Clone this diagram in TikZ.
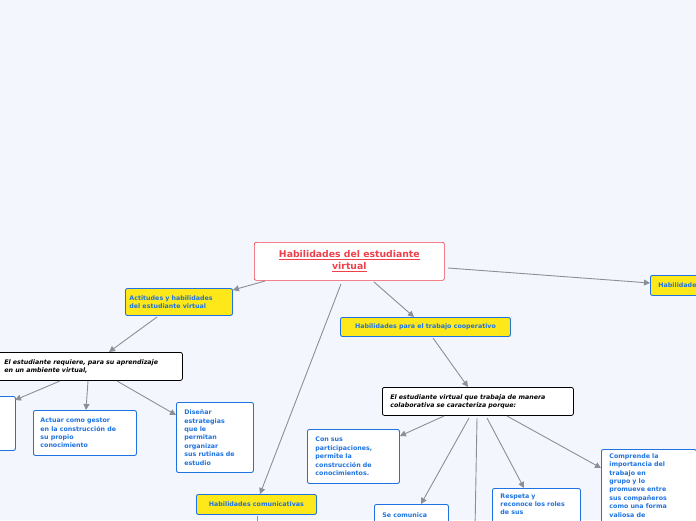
\documentclass[tikz,border=0pt]{standalone}
\usepackage{fontspec}
\setmainfont{DejaVu Sans}
\usetikzlibrary{arrows.meta}
\definecolor{bg}{HTML}{F4F6FD}
\definecolor{ln}{HTML}{8A8F99}
\definecolor{bl}{HTML}{1E73E0}
\definecolor{yl}{HTML}{FFE81A}
\definecolor{rd}{HTML}{F0404A}
\begin{document}
\begin{tikzpicture}[x=1pt,y=-1pt,
 box/.style={draw=bl,line width=0.9pt,rounded corners=2pt,fill=white,font=\fontsize{6.3}{8.4}\selectfont\bfseries,text=bl,align=left,anchor=north west,inner sep=0pt},
 ybox/.style={draw=bl,line width=0.9pt,rounded corners=2pt,fill=yl,font=\fontsize{6.3}{8.4}\selectfont\bfseries,text=bl,align=left,anchor=north west,inner sep=0pt},
 kbox/.style={draw=black,line width=0.8pt,rounded corners=2pt,fill=white,font=\fontsize{6.3}{8}\selectfont\bfseries\itshape,align=left,anchor=north west,inner sep=0pt},
 con/.style={draw=ln,line width=0.9pt,-{Triangle[length=6pt,width=6pt]}}]
\clip (0,0) rectangle (696,520);
\fill[bg] (0,0) rectangle (696,520);
\node[draw=rd,line width=0.7pt,rounded corners=2pt,fill=white,minimum width=190pt,minimum height=38pt,anchor=north west,inner sep=0pt,align=center,text=rd,font=\fontsize{9.3}{12}\selectfont\bfseries] (t) at (254,242) {\underline{Habilidades del estudiante}\\\underline{virtual}};
\node[ybox,minimum width=107pt,minimum height=27pt,text width=99pt,inner xsep=4pt] (a1) at (125,288) {Actitudes y habilidades\\del estudiante virtual};
\node[kbox,minimum width=186pt,minimum height=28pt,text width=170pt,inner xsep=8pt] (b1) at (-4,352) {El estudiante requiere, para su aprendizaje\\en un ambiente virtual,};
\node[box,minimum width=75pt,minimum height=54pt] (c0) at (-60,396) {};
\node[box,minimum width=103pt,minimum height=45pt,text width=89pt,inner xsep=7pt] (c1) at (33,410) {Actuar como gestor\\en la construcción de\\su propio\\conocimiento};
\node[box,minimum width=77pt,minimum height=70pt,text width=61pt,inner xsep=8pt] (c2) at (176,402) {Diseñar\\estrategias\\que le\\permitan\\organizar\\sus rutinas de\\estudio};
\node[ybox,minimum width=120pt,minimum height=20pt,align=center] (hc) at (196,494) {Habilidades comunicativas};
\node[ybox,minimum width=170pt,minimum height=19pt,align=center] (ht) at (340,317) {Habilidades para el trabajo cooperativo};
\node[ybox,minimum width=60pt,minimum height=20pt,text width=44pt,inner xsep=8pt] (hr) at (650,275) {Habilidades};
\node[kbox,minimum width=191pt,minimum height=28pt,text width=175pt,inner xsep=8pt] (d) at (382,387) {El estudiante virtual que trabaja de manera\\colaborativa se caracteriza porque:};
\node[box,minimum width=92pt,minimum height=54pt,text width=76pt,inner xsep=8pt] (e1) at (307,429) {Con sus\\participaciones,\\permite la\\construcción de\\conocimientos.};
\node[box,minimum width=74pt,minimum height=30pt,text width=58pt,inner xsep=8pt,inner ysep=5pt] (e2) at (374,504) {Se comunica\\\ };
\node[box,minimum width=88pt,minimum height=40pt,text width=72pt,inner xsep=8pt,inner ysep=5pt] (e3) at (492,488) {Respeta y\\reconoce los roles\\de sus\\\ };
\node[box,minimum width=95pt,minimum height=80pt,text width=79pt,inner xsep=8pt,inner ysep=4pt] (e4) at (601,449) {Comprende la\\importancia del\\trabajo en\\grupo y lo\\promueve entre\\sus compañeros\\como una forma\\valiosa de\\\ };
\coordinate (hcb) at (257,530);
\coordinate (db) at (475,530);
\draw[con] (265,281) -- (a1.north east |- 0,290) ;
\draw[con] (341,284) -- (hc.north -| 260,0);
\draw[con] (374,282) -- (ht.north -| 414,0);
\draw[con] (448,268) -- (hr.west |- 0,283);
\draw[con] (157,317) -- (b1.north -| 109,0);
\draw[con] (60,381) -- (15,400);
\draw[con] (88,381) -- (c1.north -| 86,0);
\draw[con] (117,381) -- (c2.west |- 0,415);
\draw[con] (433,338) -- (d.north -| 468,0);
\draw[con] (444,416) -- (e1.east |- 0,436);
\draw[con] (469,418) -- (e2.north -| 421,0);
\draw[ln,line width=0.9pt] (477,418) -- (db);
\draw[con] (487,418) -- (e3.north -| 524,0);
\draw[con] (507,416) -- (e4.west |- 0,468);
\draw[ln,line width=0.9pt] (257,516) -- (hcb);
\end{tikzpicture}
\end{document}
